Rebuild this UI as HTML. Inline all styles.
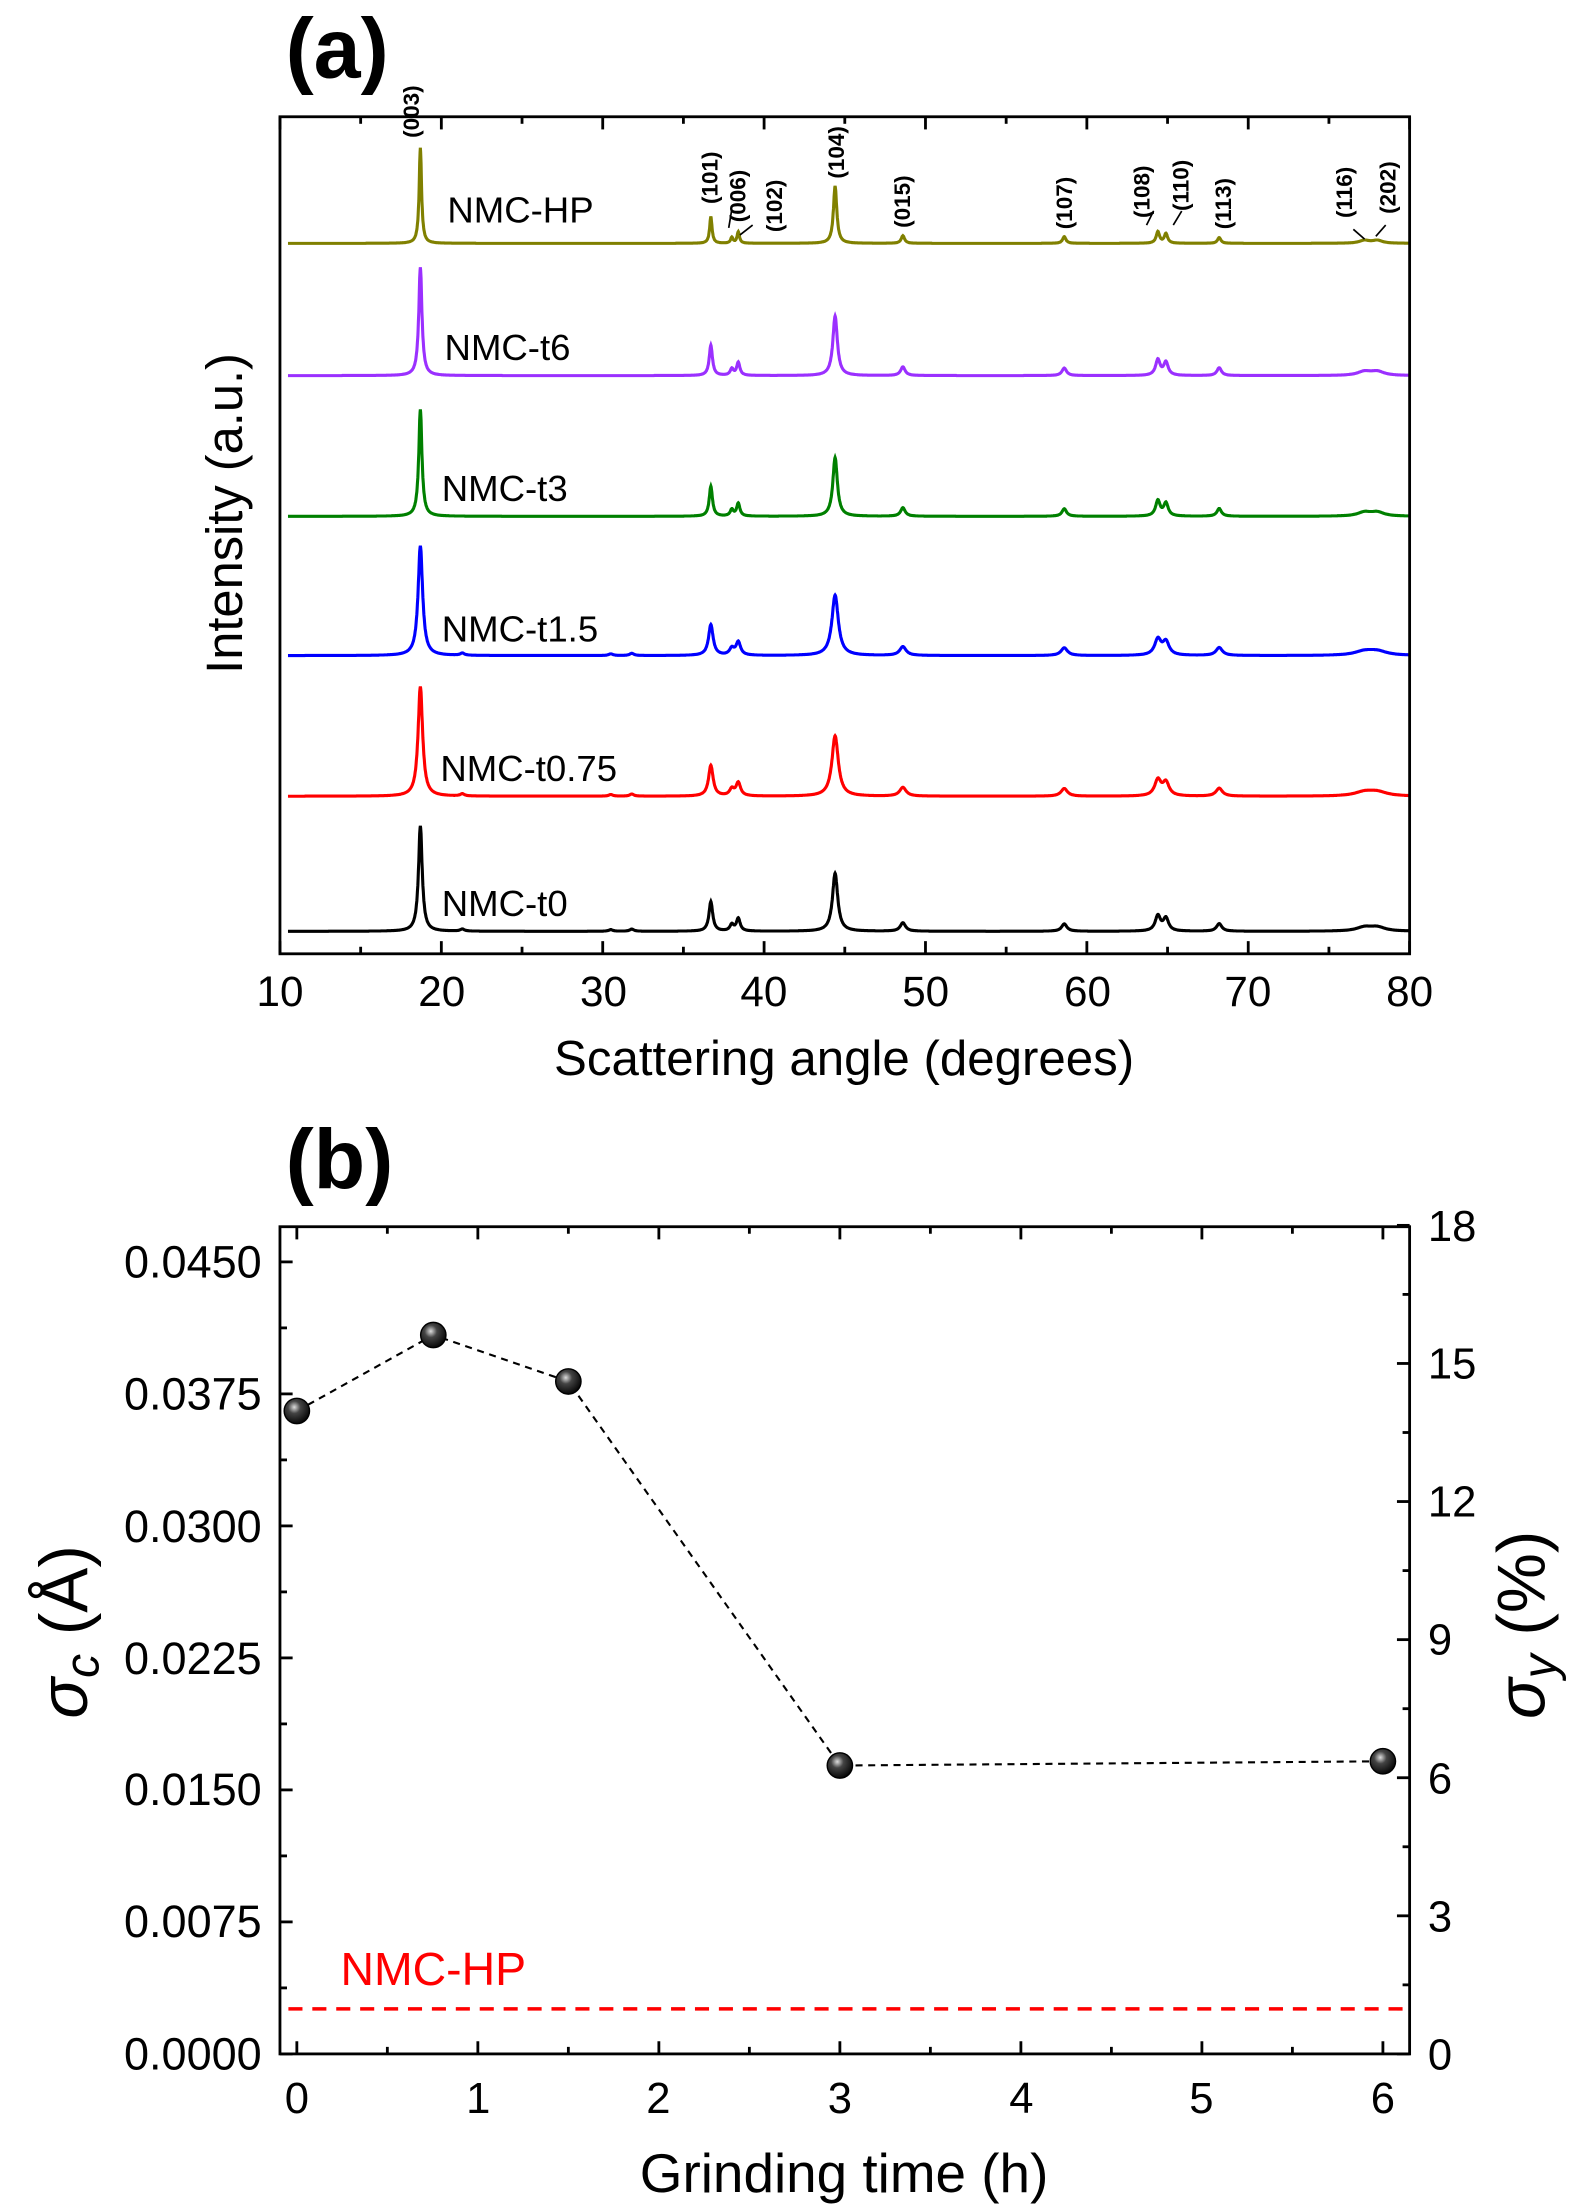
<!DOCTYPE html>
<html><head><meta charset="utf-8"><style>
html,body{margin:0;padding:0;background:#fff}
svg{display:block}
text{font-family:"Liberation Sans",sans-serif}
</style></head><body>
<svg id="s" width="1570" height="2205" viewBox="0 0 1116 1567.4" xmlns="http://www.w3.org/2000/svg">
<rect width="1116" height="1568" fill="#fff"/>
<text x="203" y="55" font-size="60" font-weight="bold">(a)</text>
<text x="203" y="845" font-size="60" font-weight="bold">(b)</text>
<g id="pa"></g>
<rect x="199" y="83" width="803" height="595" fill="none" stroke="#000" stroke-width="2"/>
<g font-size="30" text-anchor="middle">
<text x="199" y="715">10</text><text x="314" y="715">20</text><text x="429" y="715">30</text><text x="543" y="715">40</text><text x="658" y="715">50</text><text x="773" y="715">60</text><text x="887" y="715">70</text><text x="1002" y="715">80</text>
<text x="600" y="764" font-size="35">Scattering angle (degrees)</text>
<text transform="translate(172,365) rotate(-90)" font-size="36">Intensity (a.u.)</text>
</g>
<g font-size="26">
<text x="318" y="158">NMC-HP</text><text x="316" y="256">NMC-t6</text><text x="314" y="356">NMC-t3</text><text x="314" y="456">NMC-t1.5</text><text x="313" y="555">NMC-t0.75</text><text x="314" y="651">NMC-t0</text>
</g>
<g font-size="16" font-weight="bold" id="hk"></g>
<g id="pb"></g>
<rect x="199" y="872" width="803" height="588" fill="none" stroke="#000" stroke-width="2"/>
<g font-size="32" text-anchor="end">
<text x="186" y="1471">0.0000</text><text x="186" y="1377">0.0075</text><text x="186" y="1283">0.0150</text><text x="186" y="1190">0.0225</text><text x="186" y="1096">0.0300</text><text x="186" y="1002">0.0375</text><text x="186" y="908">0.0450</text>
</g>
<g font-size="31">
<text x="1015" y="1471">0</text><text x="1015" y="1373">3</text><text x="1015" y="1275">6</text><text x="1015" y="1176">9</text><text x="1015" y="1078">12</text><text x="1015" y="980">15</text><text x="1015" y="882">18</text>
</g>
<g font-size="31" text-anchor="middle">
<text x="211" y="1502">0</text><text x="340" y="1502">1</text><text x="468" y="1502">2</text><text x="597" y="1502">3</text><text x="726" y="1502">4</text><text x="854" y="1502">5</text><text x="983" y="1502">6</text>
<text x="600" y="1558" font-size="39">Grinding time (h)</text>
<text transform="translate(62,1160) rotate(-90)" font-size="48"><tspan font-style="italic">σ</tspan><tspan font-size="34" font-style="italic" dy="8">c</tspan><tspan dy="-8"> (Å)</tspan></text>
<text transform="translate(1098,1155) rotate(-90)" font-size="48"><tspan font-style="italic">σ</tspan><tspan font-size="34" font-style="italic" dy="8">y</tspan><tspan dy="-8"> (%)</tspan></text>
</g>
<text x="242" y="1411" font-size="33" fill="#f00">NMC-HP</text>
<line x1="205" y1="1428" x2="1000" y2="1428" stroke="#f00" stroke-width="2.5" stroke-dasharray="10,7"/>
<polyline points="211,1003 308,949 404,982 597,1255 983,1252" fill="none" stroke="#000" stroke-width="1.5" stroke-dasharray="5,4"/>
<defs><radialGradient id="g" cx="0.4" cy="0.35" r="0.7"><stop offset="0" stop-color="#ddd"/><stop offset="0.35" stop-color="#444"/><stop offset="1" stop-color="#000"/></radialGradient></defs>
<g fill="url(#g)" stroke="#000" stroke-width="1">
<circle cx="211" cy="1003" r="9"/><circle cx="308" cy="949" r="9"/><circle cx="404" cy="982" r="9"/><circle cx="597" cy="1255" r="9"/><circle cx="983" cy="1252" r="9"/>
</g>
</svg>
<script>
var NS="http://www.w3.org/2000/svg";
function el(p,t,a){var e=document.createElementNS(NS,t);for(var k in a)e.setAttribute(k,a[k]);p.appendChild(e);return e;}
var pa=document.getElementById('pa'),pb=document.getElementById('pb'),hk=document.getElementById('hk');
function X(d){return 199+(d-10)*803/70;}
var peaks=[[18.7,1],[36.7,.28],[38.0,.06],[38.4,.12],[44.4,.6],[48.6,.08],[58.6,.07],[64.4,.12],[64.9,.1],[68.2,.06],[77.2,.03],[78.0,.03]];
var S=[[173,68,0.09,'#808000',0],[267,77,0.12,'#9b30ff',0],[367,76,0.12,'#008000',0],[466,78,0.17,'#0000ff',1],[566,78,0.17,'#ff0000',1],[662,75,0.14,'#000',1]];
S.forEach(function(s){
 var d="";
 for(var t=10.5;t<=80;t+=0.02){
  var y=0;
  peaks.forEach(function(p){var w=s[2]*(p[0]>40?1.4:1);if(p[0]>70)w*=3;var h=p[1];if(s[0]>180&&p[0]===44.4)h=0.55;if(s[0]>180&&p[0]>60)h*=1.2;y+=h*w*w/((t-p[0])*(t-p[0])+w*w);});
  if(s[4]){[[21.3,.02],[30.5,.015],[31.8,.02]].forEach(function(p){var w=.15;y+=p[1]*w*w/((t-p[0])*(t-p[0])+w*w);});}
  d+=(d?"L":"M")+X(t).toFixed(1)+","+(s[0]-y*s[1]).toFixed(1);
 }
 el(pa,'path',{d:d,fill:'none',stroke:s[3],'stroke-width':2.2});
});
for(var v=10;v<=80;v+=5){var x=X(v),L=v%10?5:9;el(pa,'line',{x1:x,y1:678,x2:x,y2:678-L,stroke:'#000','stroke-width':2});el(pa,'line',{x1:x,y1:83,x2:x,y2:83+L,stroke:'#000','stroke-width':2});}
[['(003)',298,98],['(101)',510,145],['(006)',530,158],['(102)',556,165],['(104)',600,127],['(015)',647,162],['(107)',762,163],['(108)',817,155],['(110)',845,150],['(113)',875,163],['(116)',961,155],['(202)',992,152]].forEach(function(a){
 var t=el(hk,'text',{transform:'translate('+a[1]+','+a[2]+') rotate(-90)'});t.textContent=a[0];});
[[520,150,518,162],[535,160,526,167],[820,150,815,160],[840,150,834,160],[962,163,970,170],[985,160,978,168]].forEach(function(a){el(hk,'line',{x1:a[0],y1:a[1],x2:a[2],y2:a[3],stroke:'#000','stroke-width':1.2});});
for(var h=0;h<=6;h+=0.5){var x=211+h*128.67,L=(h%1)?5:9;el(pb,'line',{x1:x,y1:1460,x2:x,y2:1460-L,stroke:'#000','stroke-width':2});el(pb,'line',{x1:x,y1:872,x2:x,y2:872+L,stroke:'#000','stroke-width':2});}
for(var i=0;i<=12;i++){var y=1460-i*0.00375*12511,L=i%2?5:9;if(y>872)el(pb,'line',{x1:199,y1:y,x2:199+L,y2:y,stroke:'#000','stroke-width':2});}
for(var i=0;i<=12;i++){var y=1460-i*1.5*32.72,L=i%2?5:9;el(pb,'line',{x1:1002,y1:y,x2:1002-L,y2:y,stroke:'#000','stroke-width':2});}
</script>
</body></html>
